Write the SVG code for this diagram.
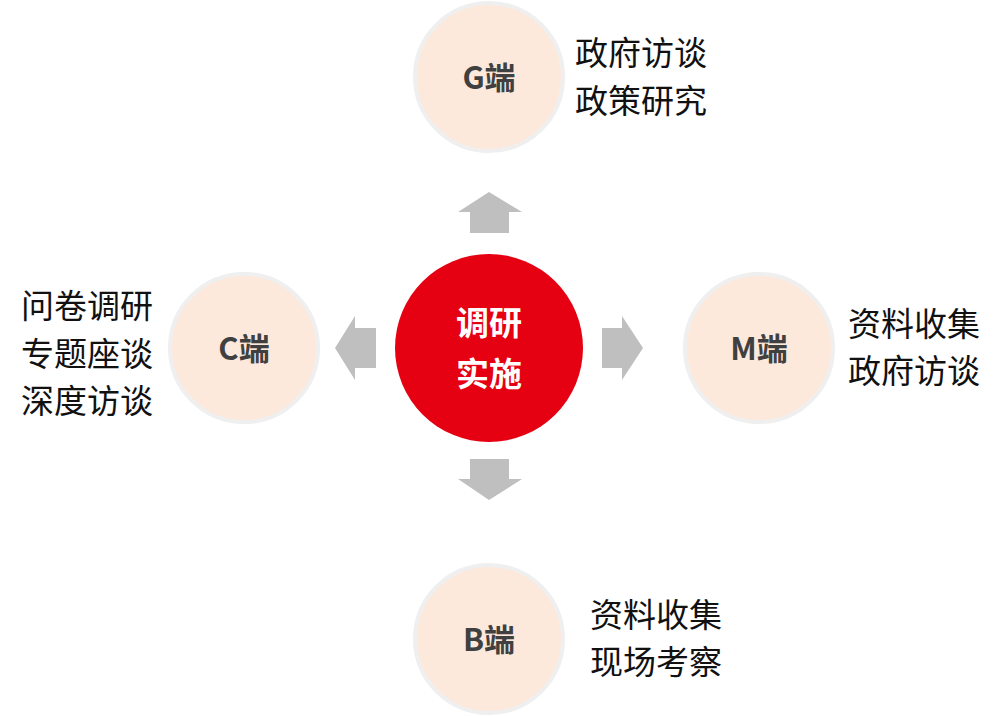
<svg xmlns="http://www.w3.org/2000/svg" width="1002" height="716" viewBox="0 0 1002 716">
<style>
.node{fill:#fde9dc;stroke:#efefef;stroke-width:4}
.lbl{font-family:"Noto Sans CJK SC","Noto Sans",sans-serif;font-weight:700;font-size:31px;fill:#404040;text-anchor:middle;dominant-baseline:central}
.ctr{font-family:"Noto Sans CJK SC","Noto Sans",sans-serif;font-weight:700;font-size:33px;fill:#ffffff;text-anchor:middle;dominant-baseline:central}
.desc{font-family:"Noto Sans CJK SC","Noto Sans",sans-serif;font-size:33px;fill:#111111}
.arr{fill:#bfbfbf}
</style>
<rect width="1002" height="716" fill="#ffffff"/>
<g id="connectors">
<polygon class="arr" points="489,192 522,212 509,212 509,233 470,233 470,212 458,212"/>
<polygon class="arr" points="489,500 522,479 509,479 509,459 470,459 470,479 458,479"/>
<polygon class="arr" points="335,348 355,316 355,328 376,328 376,368 355,368 355,380"/>
<polygon class="arr" points="643,348 622,316 622,328 602,328 602,368 622,368 622,380"/>
</g>
<g id="center">
<circle cx="489" cy="348" r="94" fill="#e50012"/>
<text class="ctr" x="489" y="321">调研</text>
<text class="ctr" x="489" y="372">实施</text>
</g>
<g id="node-g">
<circle class="node" cx="489" cy="77" r="74"/>
<text class="lbl" x="489" y="75">G端</text>
<text class="desc" x="575" y="65">政府访谈</text>
<text class="desc" x="575" y="113">政策研究</text>
</g>
<g id="node-c">
<circle class="node" cx="244" cy="348" r="74"/>
<text class="lbl" x="244" y="346">C端</text>
<text class="desc" x="21" y="318">问卷调研</text>
<text class="desc" x="21" y="366">专题座谈</text>
<text class="desc" x="21" y="413">深度访谈</text>
</g>
<g id="node-m">
<circle class="node" cx="759" cy="348" r="74"/>
<text class="lbl" x="759" y="346">M端</text>
<text class="desc" x="848" y="336">资料收集</text>
<text class="desc" x="848" y="383">政府访谈</text>
</g>
<g id="node-b">
<circle class="node" cx="489" cy="639" r="74"/>
<text class="lbl" x="489" y="637">B端</text>
<text class="desc" x="590" y="627">资料收集</text>
<text class="desc" x="590" y="674">现场考察</text>
</g>
</svg>
